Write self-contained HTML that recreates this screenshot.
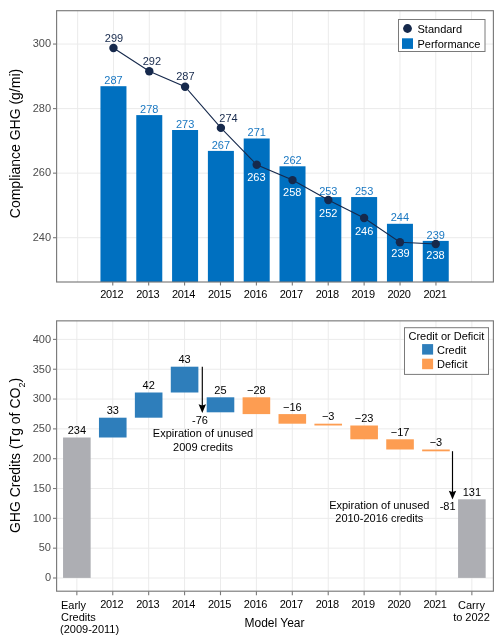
<!DOCTYPE html>
<html><head><meta charset="utf-8"><style>
html,body{margin:0;padding:0;background:#fff;width:502px;height:643px;overflow:hidden}
svg{display:block;font-family:"Liberation Sans",sans-serif;will-change:transform}
</style></head><body>
<svg width="502" height="643" viewBox="0 0 502 643" font-family="Liberation Sans, sans-serif">
<line x1="77.65" y1="10.7" x2="77.65" y2="282.0" stroke="#ebebeb" stroke-width="1"/>
<line x1="113.46" y1="10.7" x2="113.46" y2="282.0" stroke="#ebebeb" stroke-width="1"/>
<line x1="149.27" y1="10.7" x2="149.27" y2="282.0" stroke="#ebebeb" stroke-width="1"/>
<line x1="185.08" y1="10.7" x2="185.08" y2="282.0" stroke="#ebebeb" stroke-width="1"/>
<line x1="220.89" y1="10.7" x2="220.89" y2="282.0" stroke="#ebebeb" stroke-width="1"/>
<line x1="256.70" y1="10.7" x2="256.70" y2="282.0" stroke="#ebebeb" stroke-width="1"/>
<line x1="292.51" y1="10.7" x2="292.51" y2="282.0" stroke="#ebebeb" stroke-width="1"/>
<line x1="328.32" y1="10.7" x2="328.32" y2="282.0" stroke="#ebebeb" stroke-width="1"/>
<line x1="364.13" y1="10.7" x2="364.13" y2="282.0" stroke="#ebebeb" stroke-width="1"/>
<line x1="399.94" y1="10.7" x2="399.94" y2="282.0" stroke="#ebebeb" stroke-width="1"/>
<line x1="435.75" y1="10.7" x2="435.75" y2="282.0" stroke="#ebebeb" stroke-width="1"/>
<line x1="471.56" y1="10.7" x2="471.56" y2="282.0" stroke="#ebebeb" stroke-width="1"/>
<line x1="56.6" y1="237.70" x2="493.4" y2="237.70" stroke="#ebebeb" stroke-width="1"/>
<line x1="56.6" y1="173.15" x2="493.4" y2="173.15" stroke="#ebebeb" stroke-width="1"/>
<line x1="56.6" y1="108.60" x2="493.4" y2="108.60" stroke="#ebebeb" stroke-width="1"/>
<line x1="56.6" y1="44.05" x2="493.4" y2="44.05" stroke="#ebebeb" stroke-width="1"/>
<rect x="100.46" y="86.20" width="26" height="195.80" fill="#0070c0"/>
<text x="113.46" y="83.80" fill="#1a78c2" font-size="11" text-anchor="middle">287</text>
<rect x="136.27" y="115.10" width="26" height="166.90" fill="#0070c0"/>
<text x="149.27" y="112.70" fill="#1a78c2" font-size="11" text-anchor="middle">278</text>
<rect x="172.08" y="130.00" width="26" height="152.00" fill="#0070c0"/>
<text x="185.08" y="127.60" fill="#1a78c2" font-size="11" text-anchor="middle">273</text>
<rect x="207.89" y="150.90" width="26" height="131.10" fill="#0070c0"/>
<text x="220.89" y="148.50" fill="#1a78c2" font-size="11" text-anchor="middle">267</text>
<rect x="243.70" y="138.50" width="26" height="143.50" fill="#0070c0"/>
<text x="256.70" y="136.10" fill="#1a78c2" font-size="11" text-anchor="middle">271</text>
<rect x="279.51" y="166.30" width="26" height="115.70" fill="#0070c0"/>
<text x="292.51" y="163.90" fill="#1a78c2" font-size="11" text-anchor="middle">262</text>
<rect x="315.32" y="197.10" width="26" height="84.90" fill="#0070c0"/>
<text x="328.32" y="194.70" fill="#1a78c2" font-size="11" text-anchor="middle">253</text>
<rect x="351.13" y="197.05" width="26" height="84.95" fill="#0070c0"/>
<text x="364.13" y="194.65" fill="#1a78c2" font-size="11" text-anchor="middle">253</text>
<rect x="386.94" y="223.80" width="26" height="58.20" fill="#0070c0"/>
<text x="399.94" y="221.40" fill="#1a78c2" font-size="11" text-anchor="middle">244</text>
<rect x="422.75" y="240.90" width="26" height="41.10" fill="#0070c0"/>
<text x="435.75" y="238.50" fill="#1a78c2" font-size="11" text-anchor="middle">239</text>
<polyline points="113.46,48.00 149.27,71.30 185.08,86.70 220.89,127.90 256.70,164.80 292.51,180.10 328.32,199.95 364.13,217.95 399.94,242.30 435.75,243.95" fill="none" stroke="#16294c" stroke-width="1.1"/>
<circle cx="113.46" cy="48.00" r="4.2" fill="#16294c"/>
<text x="113.95" y="42.40" fill="#16294c" font-size="11" text-anchor="middle">299</text>
<circle cx="149.27" cy="71.30" r="4.2" fill="#16294c"/>
<text x="151.85" y="65.00" fill="#16294c" font-size="11" text-anchor="middle">292</text>
<circle cx="185.08" cy="86.70" r="4.2" fill="#16294c"/>
<text x="185.35" y="79.80" fill="#16294c" font-size="11" text-anchor="middle">287</text>
<circle cx="220.89" cy="127.90" r="4.2" fill="#16294c"/>
<text x="228.45" y="122.00" fill="#16294c" font-size="11" text-anchor="middle">274</text>
<circle cx="256.70" cy="164.80" r="4.2" fill="#16294c"/>
<text x="256.40" y="180.60" fill="#fff" font-size="11" text-anchor="middle">263</text>
<circle cx="292.51" cy="180.10" r="4.2" fill="#16294c"/>
<text x="292.30" y="196.40" fill="#fff" font-size="11" text-anchor="middle">258</text>
<circle cx="328.32" cy="199.95" r="4.2" fill="#16294c"/>
<text x="328.20" y="216.60" fill="#fff" font-size="11" text-anchor="middle">252</text>
<circle cx="364.13" cy="217.95" r="4.2" fill="#16294c"/>
<text x="364.10" y="234.70" fill="#fff" font-size="11" text-anchor="middle">246</text>
<circle cx="399.94" cy="242.30" r="4.2" fill="#16294c"/>
<text x="400.50" y="257.40" fill="#fff" font-size="11" text-anchor="middle">239</text>
<circle cx="435.75" cy="243.95" r="4.2" fill="#16294c"/>
<text x="435.45" y="258.80" fill="#fff" font-size="11" text-anchor="middle">238</text>
<rect x="56.6" y="10.7" width="436.79999999999995" height="271.3" fill="none" stroke="#7a7a7a" stroke-width="1.15"/>
<line x1="53" y1="237.70" x2="56.6" y2="237.70" stroke="#7a7a7a" stroke-width="1.1"/>
<text x="51" y="240.60" fill="#4d4d4d" font-size="11" text-anchor="end">240</text>
<line x1="53" y1="173.15" x2="56.6" y2="173.15" stroke="#7a7a7a" stroke-width="1.1"/>
<text x="51" y="176.05" fill="#4d4d4d" font-size="11" text-anchor="end">260</text>
<line x1="53" y1="108.60" x2="56.6" y2="108.60" stroke="#7a7a7a" stroke-width="1.1"/>
<text x="51" y="111.50" fill="#4d4d4d" font-size="11" text-anchor="end">280</text>
<line x1="53" y1="44.05" x2="56.6" y2="44.05" stroke="#7a7a7a" stroke-width="1.1"/>
<text x="51" y="46.95" fill="#4d4d4d" font-size="11" text-anchor="end">300</text>
<line x1="112.76" y1="282.0" x2="112.76" y2="285.5" stroke="#7a7a7a" stroke-width="1.1"/>
<text x="111.76" y="297.7" fill="#000" font-size="11" letter-spacing="-0.35" text-anchor="middle">2012</text>
<line x1="148.67" y1="282.0" x2="148.67" y2="285.5" stroke="#7a7a7a" stroke-width="1.1"/>
<text x="147.67" y="297.7" fill="#000" font-size="11" letter-spacing="-0.35" text-anchor="middle">2013</text>
<line x1="184.58" y1="282.0" x2="184.58" y2="285.5" stroke="#7a7a7a" stroke-width="1.1"/>
<text x="183.58" y="297.7" fill="#000" font-size="11" letter-spacing="-0.35" text-anchor="middle">2014</text>
<line x1="220.49" y1="282.0" x2="220.49" y2="285.5" stroke="#7a7a7a" stroke-width="1.1"/>
<text x="219.49" y="297.7" fill="#000" font-size="11" letter-spacing="-0.35" text-anchor="middle">2015</text>
<line x1="256.40" y1="282.0" x2="256.40" y2="285.5" stroke="#7a7a7a" stroke-width="1.1"/>
<text x="255.40" y="297.7" fill="#000" font-size="11" letter-spacing="-0.35" text-anchor="middle">2016</text>
<line x1="292.31" y1="282.0" x2="292.31" y2="285.5" stroke="#7a7a7a" stroke-width="1.1"/>
<text x="291.31" y="297.7" fill="#000" font-size="11" letter-spacing="-0.35" text-anchor="middle">2017</text>
<line x1="328.22" y1="282.0" x2="328.22" y2="285.5" stroke="#7a7a7a" stroke-width="1.1"/>
<text x="327.22" y="297.7" fill="#000" font-size="11" letter-spacing="-0.35" text-anchor="middle">2018</text>
<line x1="364.13" y1="282.0" x2="364.13" y2="285.5" stroke="#7a7a7a" stroke-width="1.1"/>
<text x="363.13" y="297.7" fill="#000" font-size="11" letter-spacing="-0.35" text-anchor="middle">2019</text>
<line x1="400.04" y1="282.0" x2="400.04" y2="285.5" stroke="#7a7a7a" stroke-width="1.1"/>
<text x="399.04" y="297.7" fill="#000" font-size="11" letter-spacing="-0.35" text-anchor="middle">2020</text>
<line x1="435.95" y1="282.0" x2="435.95" y2="285.5" stroke="#7a7a7a" stroke-width="1.1"/>
<text x="434.95" y="297.7" fill="#000" font-size="11" letter-spacing="-0.35" text-anchor="middle">2021</text>
<text transform="translate(20.1,143.5) rotate(-90)" fill="#000" font-size="14" text-anchor="middle">Compliance GHG (g/mi)</text>
<rect x="398.5" y="19.5" width="86.5" height="32" fill="#fff" stroke="#7a7a7a" stroke-width="1"/>
<circle cx="407.5" cy="28.5" r="4.4" fill="#16294c"/>
<rect x="402" y="38.3" width="11" height="10.6" fill="#0070c0"/>
<text x="417.5" y="33.2" fill="#000" font-size="11">Standard</text>
<text x="417.5" y="48.3" fill="#000" font-size="11">Performance</text>
<line x1="76.85" y1="320.85" x2="76.85" y2="591.2" stroke="#ebebeb" stroke-width="1"/>
<line x1="112.76" y1="320.85" x2="112.76" y2="591.2" stroke="#ebebeb" stroke-width="1"/>
<line x1="148.67" y1="320.85" x2="148.67" y2="591.2" stroke="#ebebeb" stroke-width="1"/>
<line x1="184.58" y1="320.85" x2="184.58" y2="591.2" stroke="#ebebeb" stroke-width="1"/>
<line x1="220.49" y1="320.85" x2="220.49" y2="591.2" stroke="#ebebeb" stroke-width="1"/>
<line x1="256.40" y1="320.85" x2="256.40" y2="591.2" stroke="#ebebeb" stroke-width="1"/>
<line x1="292.31" y1="320.85" x2="292.31" y2="591.2" stroke="#ebebeb" stroke-width="1"/>
<line x1="328.22" y1="320.85" x2="328.22" y2="591.2" stroke="#ebebeb" stroke-width="1"/>
<line x1="364.13" y1="320.85" x2="364.13" y2="591.2" stroke="#ebebeb" stroke-width="1"/>
<line x1="400.04" y1="320.85" x2="400.04" y2="591.2" stroke="#ebebeb" stroke-width="1"/>
<line x1="435.95" y1="320.85" x2="435.95" y2="591.2" stroke="#ebebeb" stroke-width="1"/>
<line x1="471.86" y1="320.85" x2="471.86" y2="591.2" stroke="#ebebeb" stroke-width="1"/>
<line x1="56.6" y1="578.00" x2="493.4" y2="578.00" stroke="#ebebeb" stroke-width="1"/>
<line x1="56.6" y1="548.17" x2="493.4" y2="548.17" stroke="#ebebeb" stroke-width="1"/>
<line x1="56.6" y1="518.35" x2="493.4" y2="518.35" stroke="#ebebeb" stroke-width="1"/>
<line x1="56.6" y1="488.52" x2="493.4" y2="488.52" stroke="#ebebeb" stroke-width="1"/>
<line x1="56.6" y1="458.70" x2="493.4" y2="458.70" stroke="#ebebeb" stroke-width="1"/>
<line x1="56.6" y1="428.88" x2="493.4" y2="428.88" stroke="#ebebeb" stroke-width="1"/>
<line x1="56.6" y1="399.05" x2="493.4" y2="399.05" stroke="#ebebeb" stroke-width="1"/>
<line x1="56.6" y1="369.23" x2="493.4" y2="369.23" stroke="#ebebeb" stroke-width="1"/>
<line x1="56.6" y1="339.40" x2="493.4" y2="339.40" stroke="#ebebeb" stroke-width="1"/>
<rect x="63.05" y="437.50" width="27.6" height="140.40" fill="#adaeb3"/>
<text x="76.85" y="434.00" fill="#000" font-size="11" text-anchor="middle">234</text>
<rect x="98.96" y="417.70" width="27.6" height="19.80" fill="#2e7ebb"/>
<text x="112.76" y="414.20" fill="#000" font-size="11" text-anchor="middle">33</text>
<rect x="134.87" y="392.50" width="27.6" height="25.20" fill="#2e7ebb"/>
<text x="148.67" y="389.00" fill="#000" font-size="11" text-anchor="middle">42</text>
<rect x="170.78" y="366.70" width="27.6" height="25.80" fill="#2e7ebb"/>
<text x="184.58" y="363.20" fill="#000" font-size="11" text-anchor="middle">43</text>
<rect x="206.69" y="397.30" width="27.6" height="15.00" fill="#2e7ebb"/>
<text x="220.49" y="393.80" fill="#000" font-size="11" text-anchor="middle">25</text>
<rect x="242.60" y="397.30" width="27.6" height="16.80" fill="#fd9d52"/>
<text x="256.40" y="393.80" fill="#000" font-size="11" text-anchor="middle">−28</text>
<rect x="278.51" y="414.10" width="27.6" height="9.60" fill="#fd9d52"/>
<text x="292.31" y="410.60" fill="#000" font-size="11" text-anchor="middle">−16</text>
<rect x="314.42" y="423.70" width="27.6" height="1.80" fill="#fd9d52"/>
<text x="328.22" y="420.20" fill="#000" font-size="11" text-anchor="middle">−3</text>
<rect x="350.33" y="425.50" width="27.6" height="13.80" fill="#fd9d52"/>
<text x="364.13" y="422.00" fill="#000" font-size="11" text-anchor="middle">−23</text>
<rect x="386.24" y="439.30" width="27.6" height="10.20" fill="#fd9d52"/>
<text x="400.04" y="435.80" fill="#000" font-size="11" text-anchor="middle">−17</text>
<rect x="422.15" y="449.50" width="27.6" height="1.80" fill="#fd9d52"/>
<text x="435.95" y="446.00" fill="#000" font-size="11" text-anchor="middle">−3</text>
<rect x="458.06" y="499.30" width="27.6" height="78.60" fill="#adaeb3"/>
<text x="471.86" y="495.80" fill="#000" font-size="11" text-anchor="middle">131</text>
<line x1="202.3" y1="366.70" x2="202.3" y2="407.00" stroke="#000" stroke-width="1.15"/>
<path d="M198.60,404.30 L202.30,405.60 L206.00,404.30 L202.30,413.00 Z" fill="#000"/>
<line x1="452.5" y1="451.20" x2="452.5" y2="493.50" stroke="#000" stroke-width="1.15"/>
<path d="M448.80,490.80 L452.50,492.10 L456.20,490.80 L452.50,499.50 Z" fill="#000"/>
<text x="200" y="423.5" fill="#000" font-size="11" text-anchor="middle">-76</text>
<text x="203" y="437" fill="#000" font-size="11" text-anchor="middle">Expiration of unused</text>
<text x="203" y="450.5" fill="#000" font-size="11" text-anchor="middle">2009 credits</text>
<text x="447.6" y="510.1" fill="#000" font-size="11" text-anchor="middle">-81</text>
<text x="379.3" y="508.6" fill="#000" font-size="11" text-anchor="middle">Expiration of unused</text>
<text x="379.3" y="522.3" fill="#000" font-size="11" text-anchor="middle">2010-2016 credits</text>
<rect x="56.6" y="320.85" width="436.79999999999995" height="270.35" fill="none" stroke="#7a7a7a" stroke-width="1.15"/>
<line x1="53" y1="578.00" x2="56.6" y2="578.00" stroke="#7a7a7a" stroke-width="1.1"/>
<text x="51" y="581.30" fill="#4d4d4d" font-size="11" text-anchor="end">0</text>
<line x1="53" y1="548.17" x2="56.6" y2="548.17" stroke="#7a7a7a" stroke-width="1.1"/>
<text x="51" y="551.47" fill="#4d4d4d" font-size="11" text-anchor="end">50</text>
<line x1="53" y1="518.35" x2="56.6" y2="518.35" stroke="#7a7a7a" stroke-width="1.1"/>
<text x="51" y="521.65" fill="#4d4d4d" font-size="11" text-anchor="end">100</text>
<line x1="53" y1="488.52" x2="56.6" y2="488.52" stroke="#7a7a7a" stroke-width="1.1"/>
<text x="51" y="491.82" fill="#4d4d4d" font-size="11" text-anchor="end">150</text>
<line x1="53" y1="458.70" x2="56.6" y2="458.70" stroke="#7a7a7a" stroke-width="1.1"/>
<text x="51" y="462.00" fill="#4d4d4d" font-size="11" text-anchor="end">200</text>
<line x1="53" y1="428.88" x2="56.6" y2="428.88" stroke="#7a7a7a" stroke-width="1.1"/>
<text x="51" y="432.18" fill="#4d4d4d" font-size="11" text-anchor="end">250</text>
<line x1="53" y1="399.05" x2="56.6" y2="399.05" stroke="#7a7a7a" stroke-width="1.1"/>
<text x="51" y="402.35" fill="#4d4d4d" font-size="11" text-anchor="end">300</text>
<line x1="53" y1="369.23" x2="56.6" y2="369.23" stroke="#7a7a7a" stroke-width="1.1"/>
<text x="51" y="372.53" fill="#4d4d4d" font-size="11" text-anchor="end">350</text>
<line x1="53" y1="339.40" x2="56.6" y2="339.40" stroke="#7a7a7a" stroke-width="1.1"/>
<text x="51" y="342.70" fill="#4d4d4d" font-size="11" text-anchor="end">400</text>
<line x1="76.85" y1="591.2" x2="76.85" y2="595.2" stroke="#7a7a7a" stroke-width="1.1"/>
<line x1="112.76" y1="591.2" x2="112.76" y2="595.2" stroke="#7a7a7a" stroke-width="1.1"/>
<text x="111.76" y="608.2" fill="#000" font-size="11" letter-spacing="-0.35" text-anchor="middle">2012</text>
<line x1="148.67" y1="591.2" x2="148.67" y2="595.2" stroke="#7a7a7a" stroke-width="1.1"/>
<text x="147.67" y="608.2" fill="#000" font-size="11" letter-spacing="-0.35" text-anchor="middle">2013</text>
<line x1="184.58" y1="591.2" x2="184.58" y2="595.2" stroke="#7a7a7a" stroke-width="1.1"/>
<text x="183.58" y="608.2" fill="#000" font-size="11" letter-spacing="-0.35" text-anchor="middle">2014</text>
<line x1="220.49" y1="591.2" x2="220.49" y2="595.2" stroke="#7a7a7a" stroke-width="1.1"/>
<text x="219.49" y="608.2" fill="#000" font-size="11" letter-spacing="-0.35" text-anchor="middle">2015</text>
<line x1="256.40" y1="591.2" x2="256.40" y2="595.2" stroke="#7a7a7a" stroke-width="1.1"/>
<text x="255.40" y="608.2" fill="#000" font-size="11" letter-spacing="-0.35" text-anchor="middle">2016</text>
<line x1="292.31" y1="591.2" x2="292.31" y2="595.2" stroke="#7a7a7a" stroke-width="1.1"/>
<text x="291.31" y="608.2" fill="#000" font-size="11" letter-spacing="-0.35" text-anchor="middle">2017</text>
<line x1="328.22" y1="591.2" x2="328.22" y2="595.2" stroke="#7a7a7a" stroke-width="1.1"/>
<text x="327.22" y="608.2" fill="#000" font-size="11" letter-spacing="-0.35" text-anchor="middle">2018</text>
<line x1="364.13" y1="591.2" x2="364.13" y2="595.2" stroke="#7a7a7a" stroke-width="1.1"/>
<text x="363.13" y="608.2" fill="#000" font-size="11" letter-spacing="-0.35" text-anchor="middle">2019</text>
<line x1="400.04" y1="591.2" x2="400.04" y2="595.2" stroke="#7a7a7a" stroke-width="1.1"/>
<text x="399.04" y="608.2" fill="#000" font-size="11" letter-spacing="-0.35" text-anchor="middle">2020</text>
<line x1="435.95" y1="591.2" x2="435.95" y2="595.2" stroke="#7a7a7a" stroke-width="1.1"/>
<text x="434.95" y="608.2" fill="#000" font-size="11" letter-spacing="-0.35" text-anchor="middle">2021</text>
<line x1="471.86" y1="591.2" x2="471.86" y2="595.2" stroke="#7a7a7a" stroke-width="1.1"/>
<text x="61" y="609" fill="#000" font-size="11">Early</text>
<text x="61" y="621" fill="#000" font-size="11">Credits</text>
<text x="60" y="633" fill="#000" font-size="11">(2009-2011)</text>
<text x="471.5" y="609" fill="#000" font-size="11" text-anchor="middle">Carry</text>
<text x="471.5" y="621" fill="#000" font-size="11" text-anchor="middle">to 2022</text>
<text x="274.5" y="627" fill="#000" font-size="12" text-anchor="middle">Model Year</text>
<text transform="translate(20.4,455.5) rotate(-90)" fill="#000" font-size="14" text-anchor="middle">GHG Credits (Tg of CO<tspan font-size="9" dy="4.8">2</tspan><tspan dy="-4.8">)</tspan></text>
<rect x="404.5" y="327.7" width="84" height="46.7" fill="#fff" stroke="#7a7a7a" stroke-width="1"/>
<text x="408.5" y="339.6" fill="#000" font-size="11">Credit or Deficit</text>
<rect x="422.1" y="344.1" width="11" height="10.5" fill="#2e7ebb"/>
<rect x="422.1" y="358.7" width="11" height="10.5" fill="#fd9d52"/>
<text x="437" y="353.8" fill="#000" font-size="11">Credit</text>
<text x="437" y="367.8" fill="#000" font-size="11">Deficit</text>
</svg>
</body></html>
